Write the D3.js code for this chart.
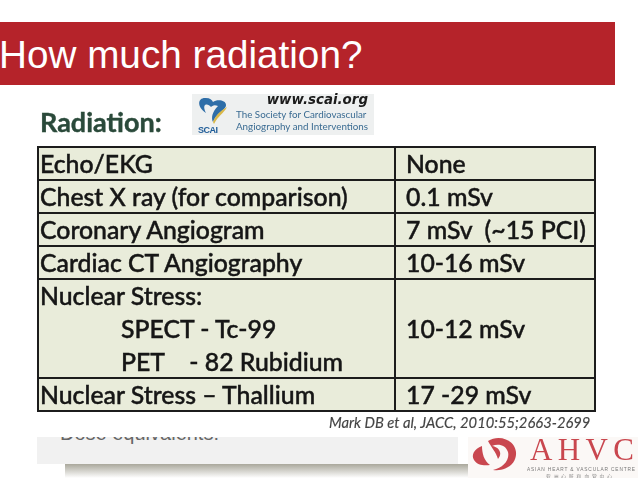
<!DOCTYPE html>
<html><head><meta charset="utf-8">
<script src="https://cdn.jsdelivr.net/npm/d3@7"></script>
<style>html,body{margin:0;padding:0;background:#fff}svg{display:block}text{white-space:pre}</style></head>
<body><svg id="c" width="638" height="478"></svg>
<script>
const titleText = "How much radiation?";
const sectionLabel = "Radiation:";
const procedures = ["Echo/EKG","Chest X ray (for comparison)","Coronary Angiogram","Cardiac CT Angiography","Nuclear Stress:","Nuclear Stress – Thallium"];
const doses = ["None","0.1 mSv","7 mSv  (~15 PCI)","10-16 mSv","10-12 mSv","17 -29 mSv"];
const rowLines = [1,1,1,1,3,1];
const subLines = ["SPECT - Tc-99","PET    - 82 Rubidium"];
const citation = "Mark DB et al, JACC, 2010:55;2663-2699";
const scaiLines = ["www.scai.org","The Society for Cardiovascular","Angiography and Interventions"];

const svg = d3.select("#c");
const defs = svg.append("defs");
defs.append("filter").attr("id","soft").append("feGaussianBlur").attr("stdDeviation",0.45);
defs.append("filter").attr("id","soft2").append("feGaussianBlur").attr("stdDeviation",0.6);
const sh = defs.append("linearGradient").attr("id","shadow").attr("x1",0).attr("y1",0).attr("x2",0).attr("y2",1);
sh.append("stop").attr("offset",0).attr("stop-color","#aaa89c");
sh.append("stop").attr("offset",1).attr("stop-color","#ffffff");

// Header
svg.append("rect").attr("x",0).attr("y",22).attr("width",615).attr("height",63).attr("fill","#b5232a");
svg.append("text").attr("x",-1).attr("y",68).attr("font-family","Liberation Sans").attr("font-size",38.7)
  .attr("fill","#fff").text(titleText);

// Section label
svg.append("text").attr("x",40).attr("y",132).attr("font-family","Lato").attr("font-weight",700)
  .attr("font-size",27).attr("fill","#2a4a3a").attr("stroke","#2a4a3a").attr("stroke-width",0.4)
  .attr("filter","url(#soft)").text(sectionLabel);

// SCAI badge
const scai = svg.append("g").attr("filter","url(#soft)");
scai.append("rect").attr("x",192).attr("y",94).attr("width",182).attr("height",41).attr("fill","#eef0f0");
scai.append("path").attr("d","M206 113 C196 106 198 97 206 98 C210 98 212 100 213 102 C217 99 226 100 226 105 C226 110 218 111 213 122 C211 118 212 112 218 106 C214 104 212 106 211 107 C208 103 201 103 206 113Z")
  .attr("fill","#2f6ea8");
scai.append("path").attr("d","M213 122 C216 114 222 110 227 107 C224 113 218 116 214 124Z").attr("fill","#d9b84a");
scai.append("text").attr("x",198).attr("y",133).attr("font-family","Liberation Sans").attr("font-weight",700)
  .attr("font-size",9).attr("fill","#1f5c98").attr("textLength",20).text("SCAI");
const scaiSizes = [13.4,9.8,9.8], scaiY = [104,118,130], scaiX = [368,236,236];
scai.selectAll("text.s").data(scaiLines).join("text").attr("class","s")
  .attr("x",(d,i)=>scaiX[i]).attr("y",(d,i)=>scaiY[i])
  .attr("text-anchor",(d,i)=>i?"start":"end")
  .attr("font-family",(d,i)=>i?"Lato":"DejaVu Sans")
  .attr("font-weight",(d,i)=>i?400:700).attr("font-style",(d,i)=>i?"normal":"italic")
  .attr("font-size",(d,i)=>scaiSizes[i]).attr("fill",(d,i)=>i?"#3a6b92":"#1c1c1c").text(d=>d);

// Grey band behind the table foot
svg.append("rect").attr("x",65).attr("y",464).attr("width",405).attr("height",14).attr("fill","url(#shadow)");
svg.append("rect").attr("x",37).attr("y",437).attr("width",421).attr("height",27).attr("fill","#f1f1f1");
const clip = defs.append("clipPath").attr("id","band");
clip.append("rect").attr("x",37).attr("y",437).attr("width",421).attr("height",27);
svg.append("g").attr("clip-path","url(#band)").append("text").attr("x",60).attr("y",440)
  .attr("font-family","Liberation Sans").attr("font-size",20).attr("fill","#666").text("Dose equivalents:");

// Table
const x0 = 38, xMid = 395, x1 = 595;
const cum = d3.cumsum(rowLines);
const y = d3.scaleLinear().domain([0,d3.sum(rowLines)]).range([147,411]);
const rows = procedures.map((p,i)=>({p,d:doses[i],start:i?cum[i-1]:0,end:cum[i]}));
const table = svg.append("g").attr("filter","url(#soft)");
table.append("rect").attr("x",x0).attr("y",y(0)).attr("width",x1-x0).attr("height",y(8)-y(0)).attr("fill","#e9ecda");
const bl = {"font-family":"Lato","font-weight":500,"font-size":24.8,"fill":"#141414","stroke":"#141414","stroke-width":0.45};
function style(s){Object.entries(bl).forEach(([k,v])=>s.attr(k,v));return s;}
const base = (y(1)-y(0))/2 + 9.5;
style(table.selectAll("text.p").data(rows).join("text").attr("class","p")
  .attr("x",x0+2).attr("y",d=>y(d.start)+base).text(d=>d.p));
style(table.selectAll("text.d").data(rows).join("text").attr("class","d")
  .attr("x",xMid+11).attr("y",d=>(y(d.start)+y(d.end))/2+9.5).text(d=>d.d));
style(table.selectAll("text.sub").data(subLines).join("text").attr("class","sub")
  .attr("x",x0+83).attr("y",(d,i)=>y(5+i)+base).text(d=>d));
table.selectAll("line.h").data([0,...cum]).join("line").attr("class","h")
  .attr("x1",x0-1).attr("x2",x1+1).attr("y1",d=>y(d)).attr("y2",d=>y(d)).attr("stroke","#1a1a1a").attr("stroke-width",2);
table.selectAll("line.v").data([x0,xMid,x1]).join("line").attr("class","v")
  .attr("x1",d=>d).attr("x2",d=>d).attr("y1",y(0)).attr("y2",y(8)).attr("stroke","#1a1a1a").attr("stroke-width",2);

// Citation
svg.append("text").attr("x",329).attr("y",428).attr("font-family","Lato").attr("font-style","italic")
  .attr("font-size",14.75).attr("fill","#444").attr("stroke","#444").attr("stroke-width",0.15)
  .attr("filter","url(#soft)").text(citation);

// AHVC logo
const logo = svg.append("g").attr("filter","url(#soft2)");
logo.append("rect").attr("x",468).attr("y",437).attr("width",170).attr("height",41).attr("fill","#fbf8f6");
logo.append("path").attr("d","M488 441 C499 434 515 440 516 452 C517 464 505 472 493 470 C503 468 510 460 508 452 C506 445 498 443 492 446 C499 447 503 453 498 459 C496 452 491 447 488 441Z")
  .attr("fill","#c9474f");
logo.append("path").attr("d","M482 446 C474 449 471 455 474 460 C477 465 484 466 490 465 C484 461 482 453 482 446Z").attr("fill","#c9474f");
logo.append("text").attr("x",530).attr("y",460).attr("font-family","Liberation Serif")
  .attr("font-size",31).attr("fill","#c9474f").attr("textLength",104).text("AHVC");
logo.append("text").attr("x",527).attr("y",471).attr("font-family","Liberation Sans").attr("font-size",4.8)
  .attr("fill","#777").attr("textLength",108).text("ASIAN HEART & VASCULAR CENTRE");
logo.append("text").attr("x",546).attr("y",477.5).attr("font-family","Noto Sans CJK SC").attr("font-size",4.8)
  .attr("fill","#888").attr("textLength",66).text("亚洲心脏和血管中心");
</script></body></html>
